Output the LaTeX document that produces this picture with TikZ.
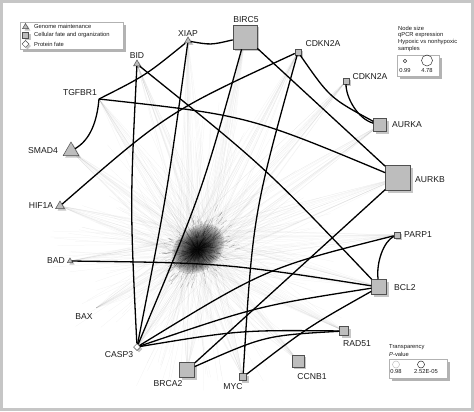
\documentclass[tikz,border=0pt]{standalone}
\usepackage{fontspec}
\setmainfont{Liberation Sans}
\usetikzlibrary{shapes.geometric,shadows,backgrounds}
\definecolor{frame}{HTML}{C6C6C6}
\definecolor{nodeFill}{HTML}{BDBDBD}
\definecolor{nodeLine}{HTML}{505050}
\definecolor{ink}{HTML}{1A1A1A}
\definecolor{haze}{HTML}{6E6E6E}
\tikzset{
  every node/.style={text=ink},
  soft/.style={drop shadow={shadow xshift=2pt, shadow yshift=-2pt, opacity=0.45}},
  cellsq/.style={rectangle, draw=nodeLine, fill=nodeFill, line width=0.5pt,
    minimum size=#1pt, inner sep=0pt, soft},
  genome/.style={regular polygon, regular polygon sides=3, draw=nodeLine, fill=nodeFill,
    line width=0.5pt, minimum size=#1pt, inner sep=0pt, soft},
  protein/.style={diamond, draw=nodeLine, fill=white, line width=0.5pt,
    minimum size=#1pt, inner sep=0pt, soft},
  gene/.style={font=\fontsize{8.6}{10}\selectfont, inner sep=0pt},
  keytext/.style={font=\fontsize{5.8}{7}\selectfont, inner sep=0pt, anchor=west},
  keybox/.style={draw=black!30, fill=white, line width=0.4pt,
    drop shadow={shadow xshift=3pt, shadow yshift=-3pt, opacity=0.6}},
  link/.style={line width=1.3pt, draw=black},
  hair/.style={draw=haze, line width=0.25pt, opacity=0.09},
}

\begin{document}
\begin{tikzpicture}[x=1pt, y=-1pt]
  \useasboundingbox (0,0) rectangle (474,412);
  \draw[frame, line width=3pt] (1.5,1.5) rectangle (472.5,409.5);
  \pgfmathsetseed{11}

  % ---------------------------------------------------------------- genes
  \foreach \name/\x/\y/\s in {birc5/245/37/24, aurkb/398/178/25, aurka/380/125/13,
      bcl2/379/287/15, rad51/344/331/9, ccnb1/298/361/12, brca2/187/370/15,
      myc/243/377/7, cdknA/298/52/6, cdknB/346/81/6, parp1/397/235/6}
    \node[cellsq=\s] (\name) at (\x,\y) {};
  \foreach \name/\x/\y/\s in {xiap/188/41/8, bid/137/64/8, smad4/71/151/18,
      hif1a/60/206/10, bad/70/261/6}
    \node[genome=\s] (\name) at (\x,\y) {};
  \node[protein=7] (casp3) at (137,347) {};
  \coordinate (tgfbr1) at (99,99);
  \coordinate (bax) at (96,308);
  \coordinate (hub) at (198,249);

  \foreach \name/\x/\y/\txt in {birc5/246/20/BIRC5, xiap/188/34/XIAP, bid/137/56/BID,
      tgfbr1/80/93/TGFBR1, smad4/43/151/SMAD4, hif1a/41/206/HIF1A, bad/56/261/BAD,
      bax/84/317/BAX, casp3/119/355/CASP3, brca2/168/384/BRCA2, myc/233/387/MYC,
      ccnb1/312/377/CCNB1, rad51/357/344/RAD51, bcl2/405/288/BCL2, parp1/418/235/PARP1,
      aurkb/430/180/AURKB, aurka/407/125/AURKA, cdknB/370/77/CDKN2A, cdknA/323/44/CDKN2A}
    \node[gene] (\name txt) at (\x,\y) {\txt};

  % ---------------------------------------------------------------- hairball
  \begin{pgfonlayer}{background}
    \foreach \n in {birc5, aurkb, aurka, bcl2, rad51, ccnb1, brca2, myc, cdknA, cdknB,
        parp1, xiap, bid, smad4, hif1a, bad, casp3, tgfbr1, bax}
      \foreach \k in {1,...,16}
        \draw[hair] (198+22*rand,249+22*rand) -- (\n);
    \foreach \k in {1,...,320}
      \draw[hair] (198+14*rand,249+14*rand) -- ++(360*rnd:30+120*rnd);
    \begin{scope}[shift={(hub)}, rotate=40]
      \foreach \s in {1,...,13}
        \fill[black, opacity=0.13] (0,0) ellipse ({2+2.1*\s} and {1.5+1.55*\s});
      \foreach \k in {1,...,700} {
        \pgfmathsetmacro\ang{360*rnd}
        \pgfmathsetmacro\rr{46*rnd*rnd}
        \draw[black, opacity=0.3, line width=0.3pt, yscale=0.8] (\ang:\rr) -- ++(\ang:2+7*rnd);
      }
    \end{scope}
  \end{pgfonlayer}

  % ---------------------------------------------------------------- interactions
  \draw[link] (xiap) .. controls (211,45) .. (birc5);
  \draw[link] (xiap) .. controls (145.5,75.5) .. (tgfbr1);
  \draw[link] (xiap) .. controls (167,194) .. (casp3);
  \draw[link] (birc5) .. controls (202,192) .. (casp3);
  \draw[link] (birc5) -- (aurkb);
  \draw[link] (bid) .. controls (130,205) .. (casp3);
  \draw[link] (bid) .. controls (265,167) .. (bcl2);
  \draw[link] (cdknA) .. controls (168,112) .. (hif1a);
  \draw[link] (cdknA) .. controls (253,214) .. (myc);
  \draw[link] (cdknA) .. controls (330,98) .. (aurka);
  \draw[link] (cdknB) .. controls (346,98) and (358,119) .. (aurka);
  \draw[link] (tgfbr1) .. controls (97,122) and (90,140) .. (smad4);
  \draw[link] (tgfbr1) .. controls (248,115.5) .. (aurkb);
  \draw[link] (aurkb) -- (brca2);
  \draw[link] (bad) .. controls (224,263) .. (bcl2);
  \draw[link] (parp1) .. controls (384,241) and (376,262) .. (bcl2);
  \draw[link] (casp3) .. controls (266,268) .. (parp1);
  \draw[link] (casp3) .. controls (258,306) .. (bcl2);
  \draw[link] (casp3) .. controls (240,330) .. (rad51);
  \draw[link] (brca2) .. controls (265,335.5) .. (rad51);
  \draw[link] (myc) .. controls (308,327) .. (bcl2);

  % ---------------------------------------------------------------- node type key
  \node[keybox, minimum width=103pt, minimum height=27pt, anchor=north west] (typekey) at (20,22) {};
  \node[genome=7] (keytri) at (25.5,27) {};
  \node[cellsq=6] (keysq) at (25.5,35.5) {};
  \node[protein=7] (keydia) at (25.5,44) {};
  \node[keytext] (keytritxt) at (34,26.5) {Genome maintenance};
  \node[keytext] (keysqtxt) at (34,35.5) {Cellular fate and organization};
  \node[keytext] (keydiatxt) at (34,44) {Protein fate};

  % ---------------------------------------------------------------- node size key
  \node[keytext] (sizeA) at (398,28) {Node size};
  \node[keytext] (sizeB) at (398,35) {qPCR expression};
  \node[keytext] (sizeC) at (398,42) {Hypoxic vs nonhypoxic};
  \node[keytext] (sizeD) at (398,49) {samples};
  \node[keybox, minimum width=42pt, minimum height=21pt, anchor=north west] (sizekey) at (397,55) {};
  \node[circle, draw=black!80, line width=0.4pt, minimum size=3.5pt, inner sep=0pt] (sizelo) at (405,61) {};
  \node[circle, draw=black!80, line width=0.5pt, minimum size=11pt, inner sep=0pt] (sizehi) at (427,60.5) {};
  \node[keytext, anchor=center] (sizelotxt) at (405,70.5) {0.99};
  \node[keytext, anchor=center] (sizehitxt) at (427,70.5) {4.78};

  % ---------------------------------------------------------------- transparency key
  \node[keytext] (pA) at (389,347) {Transparency};
  \node[keytext] (pB) at (389,354.5) {\itshape P\upshape-value};
  \node[keybox, minimum width=58pt, minimum height=19pt, anchor=north west] (pkey) at (389,359) {};
  \node[circle, draw=black!25, line width=0.5pt, minimum size=7pt, inner sep=0pt] (plo) at (396,364.5) {};
  \node[circle, draw=black!85, line width=0.5pt, minimum size=7pt, inner sep=0pt] (phi) at (421,364.5) {};
  \node[keytext, anchor=center] (plotxt) at (396,372) {0.98};
  \node[keytext, anchor=center] (phitxt) at (426,372) {2.52E-05};
\end{tikzpicture}
\end{document}
